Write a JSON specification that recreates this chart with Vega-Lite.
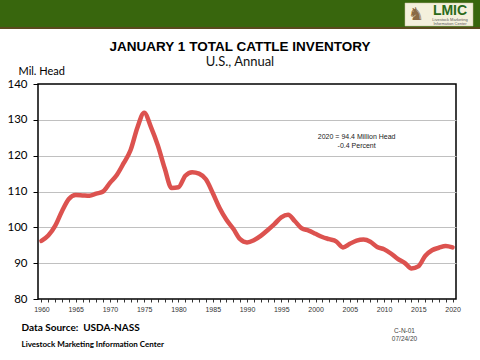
{
  "$schema": "https://vega.github.io/schema/vega-lite/v6.json",
  "padding": 0,
  "background": "white",
  "bounds": "flush",
  "spacing": 55,
  "config": {"view": {"stroke": null}, "font": "Lato"},
  "vconcat": [
    {
      "width": 480,
      "height": 29,
      "view": {"fill": "#38660d", "stroke": null},
      "data": {"values": [{"item": "logo"}]},
      "layer": [
        {
          "mark": {"type": "rect", "color": "#5a4a1e"},
          "encoding": {
            "x": {"datum": 0, "type": "quantitative", "scale": {"domain": [0, 480], "nice": false, "zero": false}, "axis": null},
            "x2": {"datum": 480},
            "y": {"datum": 27, "type": "quantitative", "scale": {"domain": [29, 0], "nice": false, "zero": false}, "axis": null},
            "y2": {"datum": 29}
          }
        },
        {
          "mark": {"type": "rect", "color": "#f4f0dc", "stroke": "#c8c0a0", "strokeWidth": 0.5},
          "encoding": {
            "x": {"datum": 405, "type": "quantitative"},
            "x2": {"datum": 473},
            "y": {"datum": 3, "type": "quantitative"},
            "y2": {"datum": 26}
          }
        },
        {
          "mark": {"type": "text", "text": "LMIC", "font": "Liberation Sans", "fontWeight": "bold", "fontSize": 14, "color": "#2a6a1a", "align": "center", "baseline": "alphabetic"},
          "encoding": {"x": {"datum": 450, "type": "quantitative"}, "y": {"datum": 15, "type": "quantitative"}}
        },
        {
          "mark": {"type": "text", "text": ["Livestock Marketing", "Information Center"], "font": "Liberation Sans", "fontSize": 4, "lineHeight": 4.2, "color": "#555555", "align": "center", "baseline": "top"},
          "encoding": {"x": {"datum": 450, "type": "quantitative"}, "y": {"datum": 17.5, "type": "quantitative"}}
        },
        {
          "mark": {"type": "text", "text": "♞", "font": "DejaVu Sans", "fontSize": 18, "color": "#8a6a45", "align": "center", "baseline": "middle"},
          "encoding": {"x": {"datum": 416, "type": "quantitative"}, "y": {"datum": 15, "type": "quantitative"}}
        }
      ]
    },
    {
      "hconcat": [
        {
          "width": 38,
          "height": 215,
          "data": {"values": [{"a": 0}]},
          "mark": {"type": "point", "opacity": 0}
        },
        {
          "width": 418,
          "height": 215,
          "view": {"stroke": "#000000", "strokeWidth": 1.5},
          "title": {
            "text": "JANUARY 1 TOTAL CATTLE INVENTORY",
            "subtitle": "U.S., Annual\u00a0\u00a0\u00a0\u00a0\u00a0\u00a0\u00a0\u00a0\u00a0",
            "font": "Liberation Sans",
            "fontSize": 13.5,
            "fontWeight": "bold",
            "color": "#000000",
            "subtitleFont": "Lato",
            "subtitleFontSize": 13,
            "subtitleColor": "#111111",
            "subtitlePadding": 3,
            "anchor": "middle",
            "frame": "group",
            "dx": -7,
            "offset": -4
          },
          "data": {"values": [
            {"year": 1960, "head": 96.2}, {"year": 1961, "head": 97.7}, {"year": 1962, "head": 100.4}, {"year": 1963, "head": 104.5},
            {"year": 1964, "head": 107.9}, {"year": 1965, "head": 109.0}, {"year": 1966, "head": 108.9}, {"year": 1967, "head": 108.8},
            {"year": 1968, "head": 109.4}, {"year": 1969, "head": 110.0}, {"year": 1970, "head": 112.4}, {"year": 1971, "head": 114.6},
            {"year": 1972, "head": 117.9}, {"year": 1973, "head": 121.5}, {"year": 1974, "head": 127.8}, {"year": 1975, "head": 132.0},
            {"year": 1976, "head": 127.9}, {"year": 1977, "head": 122.8}, {"year": 1978, "head": 116.4}, {"year": 1979, "head": 111.0},
            {"year": 1980, "head": 111.2}, {"year": 1981, "head": 114.4}, {"year": 1982, "head": 115.4}, {"year": 1983, "head": 115.0},
            {"year": 1984, "head": 113.4}, {"year": 1985, "head": 109.6}, {"year": 1986, "head": 105.4}, {"year": 1987, "head": 102.1},
            {"year": 1988, "head": 99.6}, {"year": 1989, "head": 96.7}, {"year": 1990, "head": 95.8}, {"year": 1991, "head": 96.4},
            {"year": 1992, "head": 97.6}, {"year": 1993, "head": 99.2}, {"year": 1994, "head": 100.9}, {"year": 1995, "head": 102.8},
            {"year": 1996, "head": 103.5}, {"year": 1997, "head": 101.7}, {"year": 1998, "head": 99.7}, {"year": 1999, "head": 99.1},
            {"year": 2000, "head": 98.2}, {"year": 2001, "head": 97.3}, {"year": 2002, "head": 96.7}, {"year": 2003, "head": 96.1},
            {"year": 2004, "head": 94.4}, {"year": 2005, "head": 95.4}, {"year": 2006, "head": 96.3}, {"year": 2007, "head": 96.6},
            {"year": 2008, "head": 96.0}, {"year": 2009, "head": 94.5}, {"year": 2010, "head": 93.9}, {"year": 2011, "head": 92.7},
            {"year": 2012, "head": 91.2}, {"year": 2013, "head": 90.1}, {"year": 2014, "head": 88.5}, {"year": 2015, "head": 89.1},
            {"year": 2016, "head": 92.0}, {"year": 2017, "head": 93.6}, {"year": 2018, "head": 94.3}, {"year": 2019, "head": 94.8},
            {"year": 2020, "head": 94.4}
          ]},
          "resolve": {"axis": {"x": "independent", "y": "independent"}},
          "layer": [
            {
              "mark": {"type": "line", "color": "#dc524f", "strokeWidth": 4.5, "interpolate": "monotone", "strokeCap": "round", "strokeJoin": "round"},
              "encoding": {
                "x": {
                  "field": "year", "type": "quantitative",
                  "scale": {"domain": [1959.5, 2020.5], "nice": false, "zero": false},
                  "axis": {
                    "orient": "bottom",
                    "values": [1960,1961,1962,1963,1964,1965,1966,1967,1968,1969,1970,1971,1972,1973,1974,1975,1976,1977,1978,1979,1980,1981,1982,1983,1984,1985,1986,1987,1988,1989,1990,1991,1992,1993,1994,1995,1996,1997,1998,1999,2000,2001,2002,2003,2004,2005,2006,2007,2008,2009,2010,2011,2012,2013,2014,2015,2016,2017,2018,2019,2020],
                    "format": "d",
                    "labelExpr": "datum.value % 5 === 0 ? datum.label : ''",
                    "labelOverlap": false,
                    "labelFlush": false,
                    "grid": false,
                    "domain": false,
                    "ticks": true,
                    "tickSize": 3,
                    "tickColor": "#000000",
                    "tickWidth": 0.8,
                    "labelFont": "Liberation Sans",
                    "labelFontSize": 7,
                    "labelColor": "#333333",
                    "labelPadding": 3,
                    "title": "Data Source:\u00a0 USDA-NASS",
                    "titleFont": "Lato",
                    "titleFontWeight": "bold",
                    "titleFontSize": 10,
                    "titleColor": "#000000",
                    "titleAnchor": "start",
                    "titleAlign": "left",
                    "titleBaseline": "alphabetic",
                    "titleX": -17,
                    "titleY": 31
                  }
                },
                "y": {
                  "field": "head", "type": "quantitative",
                  "scale": {"domain": [80, 140], "nice": false, "zero": false},
                  "axis": {
                    "orient": "left",
                    "values": [80, 90, 100, 110, 120, 130, 140],
                    "grid": true,
                    "gridColor": {"condition": {"test": "datum.value === 80 || datum.value === 140", "value": "transparent"}, "value": "#c0c0c0"},
                    "gridWidth": 1,
                    "domain": false,
                    "tickSize": 5,
                    "tickColor": "#000000",
                    "labelFont": "Lato",
                    "labelFontSize": 11.5,
                    "labelColor": "#000000",
                    "labelPadding": 6,
                    "title": "Mil. Head",
                    "titleAngle": 0,
                    "titleAlign": "left",
                    "titleBaseline": "alphabetic",
                    "titleX": -20,
                    "titleY": -10,
                    "titleFont": "Lato",
                    "titleFontSize": 11,
                    "titleFontWeight": "normal",
                    "titleColor": "#000000"
                  }
                }
              }
            },
            {
              "data": {"values": [{"note": "2020"}]},
              "mark": {"type": "text", "text": ["2020 = 94.4 Million Head", "-0.4 Percent"], "font": "Liberation Sans", "fontSize": 7, "lineHeight": 8.5, "align": "center", "baseline": "middle", "color": "#222222"},
              "encoding": {
                "x": {
                  "datum": 2006, "type": "quantitative",
                  "axis": {
                    "orient": "top", "labels": false, "ticks": false, "domain": false, "grid": false,
                    "title": "Livestock Marketing Information Center",
                    "titleFont": "Lato", "titleFontWeight": "bold", "titleFontSize": 8, "titleColor": "#000000",
                    "titleAlign": "left", "titleBaseline": "alphabetic", "titleX": -17, "titleY": 262
                  }
                },
                "y": {
                  "datum": 125.2, "type": "quantitative",
                  "axis": {
                    "orient": "right", "labels": false, "ticks": false, "domain": false, "grid": false,
                    "title": ["C-N-01", "07/24/20"],
                    "titleAngle": 0, "titleAlign": "center", "titleBaseline": "alphabetic",
                    "titleX": -52, "titleY": 248,
                    "titleFont": "Liberation Sans", "titleFontSize": 6.5, "titleFontWeight": "normal",
                    "titleColor": "#444444", "titleLineHeight": 8
                  }
                }
              }
            }
          ]
        }
      ],
      "spacing": 0,
      "bounds": "flush"
    }
  ]
}
